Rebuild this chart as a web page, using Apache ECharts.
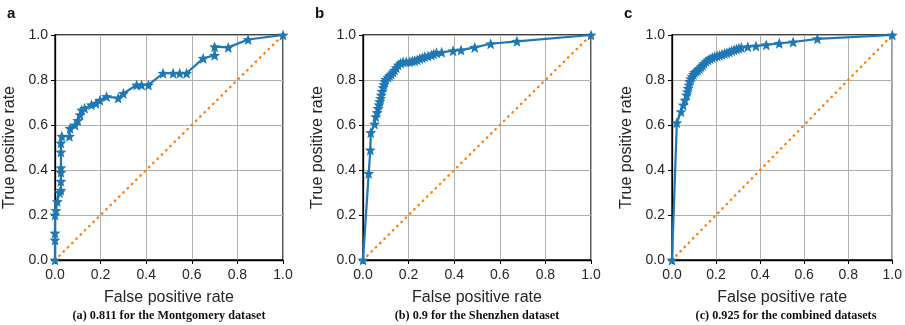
<!DOCTYPE html>
<html>
<head>
<meta charset="utf-8">
<script src="https://cdn.jsdelivr.net/npm/echarts@6/dist/echarts.min.js"></script>
<style>
  html, body { margin: 0; padding: 0; background: #fff; }
  #chart { width: 905px; height: 325px; }
</style>
</head>
<body>
<div id="chart"></div>
<script>
// ROC curves for three datasets
const fprA = [0, 0, 0, 0, 0.004, 0.01, 0.02, 0.026, 0.026, 0.026, 0.026, 0.026, 0.026, 0.03, 0.063, 0.066, 0.088, 0.10, 0.11, 0.117, 0.13, 0.16, 0.18, 0.197, 0.226, 0.277, 0.30, 0.358, 0.38, 0.41, 0.474, 0.518, 0.547, 0.577, 0.65, 0.70, 0.70, 0.76, 0.847, 1.0];
const tprA = [0, 0.089, 0.12, 0.20, 0.22, 0.26, 0.30, 0.31, 0.35, 0.39, 0.41, 0.48, 0.52, 0.55, 0.55, 0.585, 0.60, 0.62, 0.645, 0.667, 0.674, 0.69, 0.696, 0.71, 0.726, 0.72, 0.74, 0.778, 0.778, 0.778, 0.83, 0.83, 0.83, 0.83, 0.896, 0.91, 0.948, 0.945, 0.98, 1.0];

const fprB = [0, 0.025, 0.032, 0.034, 0.051, 0.056, 0.062, 0.066, 0.070, 0.073, 0.077, 0.080, 0.084, 0.088, 0.092, 0.095, 0.10, 0.11, 0.117, 0.124, 0.132, 0.139, 0.146, 0.154, 0.165, 0.176, 0.19, 0.205, 0.216, 0.227, 0.238, 0.249, 0.26, 0.271, 0.285, 0.30, 0.31, 0.322, 0.345, 0.395, 0.43, 0.49, 0.56, 0.675, 1.0];
const tprB = [0, 0.385, 0.489, 0.566, 0.604, 0.637, 0.655, 0.674, 0.690, 0.704, 0.718, 0.733, 0.750, 0.767, 0.780, 0.793, 0.803, 0.812, 0.820, 0.827, 0.835, 0.844, 0.855, 0.867, 0.875, 0.881, 0.881, 0.881, 0.884, 0.886, 0.890, 0.895, 0.899, 0.904, 0.907, 0.911, 0.916, 0.921, 0.923, 0.930, 0.933, 0.945, 0.961, 0.972, 1.0];

const fprC = [0, 0.022, 0.041, 0.051, 0.059, 0.066, 0.070, 0.073, 0.077, 0.080, 0.085, 0.091, 0.097, 0.102, 0.110, 0.117, 0.125, 0.132, 0.139, 0.146, 0.155, 0.164, 0.173, 0.183, 0.194, 0.205, 0.216, 0.227, 0.238, 0.249, 0.26, 0.271, 0.282, 0.293, 0.304, 0.315, 0.344, 0.381, 0.428, 0.487, 0.55, 0.66, 1.0];
const tprC = [0, 0.61, 0.659, 0.689, 0.711, 0.733, 0.748, 0.763, 0.778, 0.793, 0.805, 0.815, 0.825, 0.833, 0.839, 0.844, 0.851, 0.859, 0.866, 0.874, 0.882, 0.889, 0.895, 0.90, 0.904, 0.907, 0.910, 0.914, 0.918, 0.921, 0.925, 0.93, 0.934, 0.938, 0.941, 0.944, 0.948, 0.951, 0.956, 0.963, 0.969, 0.983, 1.0];

const chanceX = [0, 1];
const chanceY = [0, 1];

const panelLetters = ['a', 'b', 'c'];
const captions = [
  '(a) 0.811 for the Montgomery dataset',
  '(b) 0.9 for the Shenzhen dataset',
  '(c) 0.925 for the combined datasets'
];
const xTitle = 'False positive rate';
const yTitle = 'True positive rate';

const curves = [[fprA, tprA], [fprB, tprB], [fprC, tprC]];
const gridLefts = [55, 363, 672];
const plotW = 228, plotTop = 35, plotH = 225;

// five-pointed star glyph for the markers
function starPath() {
  let d = '';
  for (let i = 0; i < 10; i++) {
    const r = i % 2 === 0 ? 10 : 4.3;
    const a = -Math.PI / 2 + i * Math.PI / 5;
    const px = (10 + r * Math.cos(a)).toFixed(2);
    const py = (10 + r * Math.sin(a)).toFixed(2);
    d += (i === 0 ? 'M' : 'L') + px + ' ' + py + ' ';
  }
  return 'path://' + d + 'Z';
}
const STAR = starPath();

const zip = (xs, ys) => xs.map((x, i) => [x, ys[i]]);

const SANS = 'Liberation Sans, Arial, sans-serif';
const tickFont = { fontFamily: SANS, fontSize: 14, color: '#262626' };

const grids = [], xAxes = [], yAxes = [], series = [], titles = [];
gridLefts.forEach((left, i) => {
  grids.push({
    left: left, top: plotTop, width: plotW, height: plotH,
    show: true, borderColor: '#000', borderWidth: 1.3, backgroundColor: '#fff'
  });
  const axisCommon = {
    type: 'value', min: 0, max: 1, interval: 0.2, gridIndex: i,
    axisLine: { show: true, onZero: false, lineStyle: { color: '#000', width: 1.3 } },
    axisTick: { show: true, length: 4, lineStyle: { color: '#000', width: 1 } },
    splitLine: { show: true, lineStyle: { color: '#b0b0b0', width: 1 } },
    nameLocation: 'middle',
    nameTextStyle: { fontFamily: SANS, fontSize: 16, color: '#262626' }
  };
  xAxes.push(Object.assign({}, axisCommon, {
    name: xTitle, nameGap: 30,
    axisLabel: Object.assign({ margin: 8, formatter: v => v.toFixed(1) }, tickFont)
  }));
  yAxes.push(Object.assign({}, axisCommon, {
    name: yTitle, nameGap: 37,
    axisLabel: Object.assign({ margin: 7, formatter: v => v.toFixed(1) }, tickFont)
  }));
  series.push({
    type: 'line', xAxisIndex: i, yAxisIndex: i,
    data: zip(chanceX, chanceY),
    showSymbol: false, clip: false, z: 2,
    lineStyle: { color: '#ff7f0e', width: 2.4, type: [0.5, 5.5], cap: 'round' }
  });
  series.push({
    type: 'line', xAxisIndex: i, yAxisIndex: i,
    data: zip(curves[i][0], curves[i][1]),
    symbol: STAR, symbolSize: 11, showAllSymbol: true, clip: false, z: 3,
    lineStyle: { color: '#1f77b4', width: 2.2 },
    itemStyle: { color: '#1f77b4' }
  });
  titles.push({
    text: panelLetters[i], left: left - 48, top: 6, padding: 0,
    textStyle: { fontFamily: SANS, fontSize: 15, fontWeight: 'bold', color: '#111' }
  });
  titles.push({
    text: captions[i], left: left + plotW / 2, top: 310, textAlign: 'center', padding: 0,
    textStyle: { fontFamily: 'Liberation Serif, Times New Roman, serif', fontSize: 12.2, fontWeight: 'bold', color: '#111' }
  });
});

const chart = echarts.init(document.getElementById('chart'), null, { renderer: 'canvas' });
chart.setOption({
  animation: false,
  backgroundColor: '#fff',
  title: titles,
  grid: grids,
  xAxis: xAxes,
  yAxis: yAxes,
  series: series
});
</script>
</body>
</html>
